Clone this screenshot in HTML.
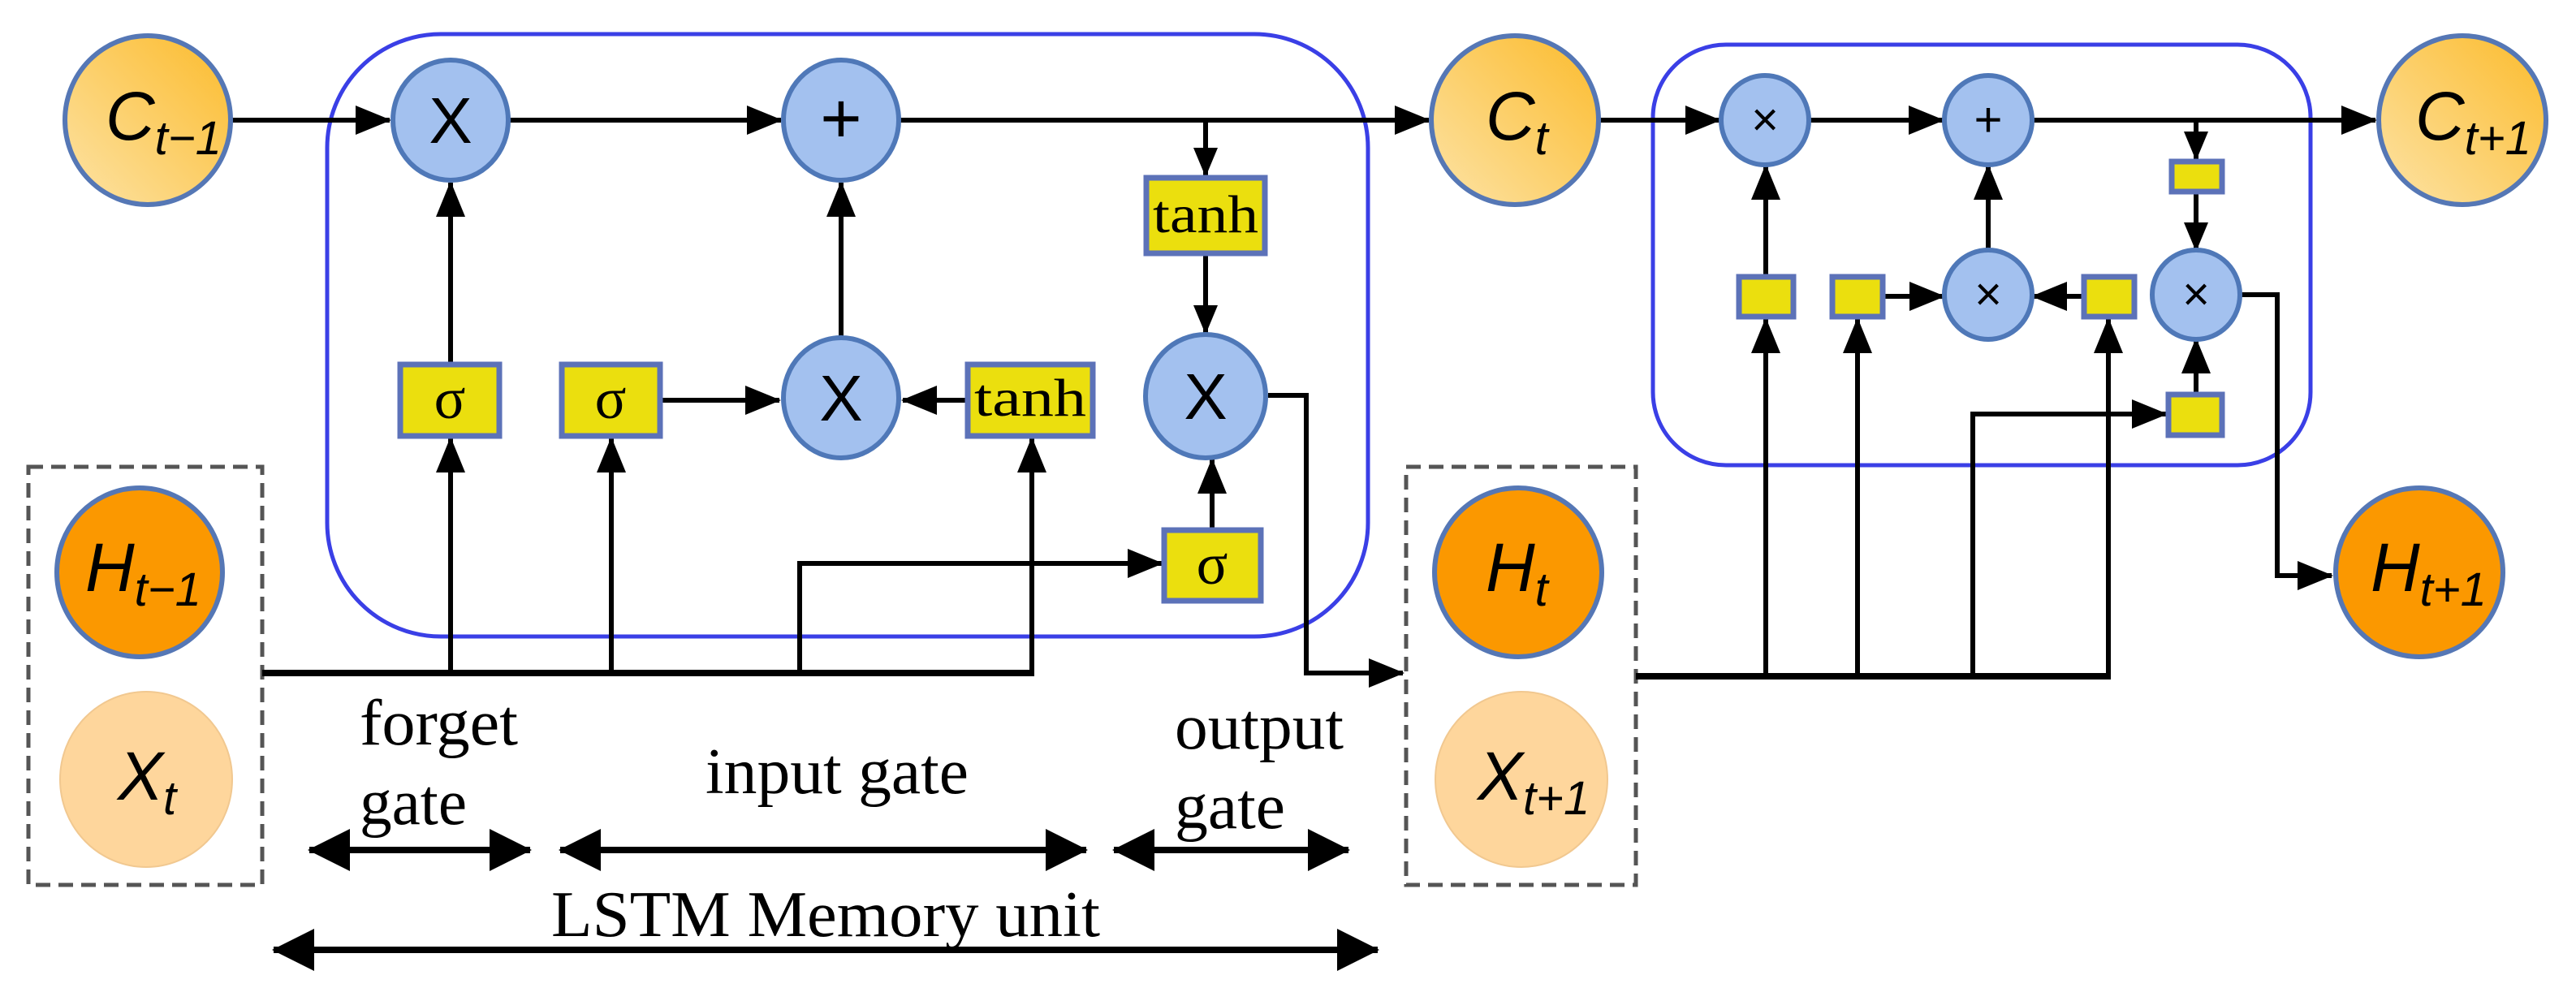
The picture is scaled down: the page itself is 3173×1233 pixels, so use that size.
<!DOCTYPE html>
<html><head><meta charset="utf-8"><style>
html,body{margin:0;padding:0;background:#fff;}
svg{display:block}
.it{font-family:"Liberation Sans",sans-serif;font-style:italic;}
.s{font-family:"Liberation Sans",sans-serif;}
.sr{font-family:"Liberation Serif",serif;}
</style></head><body>
<svg width="3173" height="1233" viewBox="0 0 3173 1233" xmlns="http://www.w3.org/2000/svg">
<defs>
<marker id="a" markerUnits="userSpaceOnUse" markerWidth="44" markerHeight="36" refX="42" refY="18" orient="auto"><path d="M0,0 L44,18 L0,36 z" fill="#000"/></marker>
<marker id="as" markerUnits="userSpaceOnUse" markerWidth="36" markerHeight="30" refX="34" refY="15" orient="auto"><path d="M0,0 L36,15 L0,30 z" fill="#000"/></marker>
<marker id="ab" markerUnits="userSpaceOnUse" markerWidth="52" markerHeight="52" refX="50" refY="26" orient="auto"><path d="M0,0 L52,26 L0,52 z" fill="#000"/></marker>
<marker id="abs" markerUnits="userSpaceOnUse" markerWidth="52" markerHeight="52" refX="2" refY="26" orient="auto"><path d="M52,0 L0,26 L52,52 z" fill="#000"/></marker>
<linearGradient id="cg" x1="1" y1="0" x2="0" y2="1"><stop offset="0" stop-color="#fbbb2c"/><stop offset="1" stop-color="#fde3a6"/></linearGradient>
</defs>

<rect x="403" y="42" width="1282" height="742" rx="140" fill="none" stroke="#3a3fe6" stroke-width="5"/>
<rect x="2036" y="55" width="810" height="518" rx="90" fill="none" stroke="#3a3fe6" stroke-width="5"/>

<rect x="35" y="575" width="288" height="515" fill="none" stroke="#555" stroke-width="5" stroke-dasharray="18,10"/>
<rect x="1732" y="575" width="283" height="515" fill="none" stroke="#555" stroke-width="5" stroke-dasharray="18,10"/>

<g stroke="#000" stroke-width="6" fill="none">
<line x1="285" y1="148" x2="480" y2="148" marker-end="url(#a)"/>
<line x1="627" y1="148" x2="962" y2="148" marker-end="url(#a)"/>
<line x1="1108" y1="148" x2="1760" y2="148" marker-end="url(#a)"/>
<line x1="1485" y1="148" x2="1485" y2="216" marker-end="url(#as)"/>
<line x1="1485" y1="315" x2="1485" y2="410" marker-end="url(#as)"/>
<line x1="555" y1="446" x2="555" y2="225" marker-end="url(#a)"/>
<line x1="1036" y1="415" x2="1036" y2="225" marker-end="url(#a)"/>
<line x1="555" y1="830" x2="555" y2="540" marker-end="url(#a)"/>
<line x1="753" y1="830" x2="753" y2="540" marker-end="url(#a)"/>
<line x1="1271" y1="830" x2="1271" y2="540" marker-end="url(#a)"/>
<line x1="816" y1="493" x2="960" y2="493" marker-end="url(#a)"/>
<line x1="1189" y1="493" x2="1112" y2="493" marker-end="url(#a)"/>
<line x1="1493" y1="650" x2="1493" y2="566" marker-end="url(#a)"/>
<polyline points="985,830 985,694 1431,694" marker-end="url(#a)"/>
<line x1="323" y1="829" x2="1274" y2="829" stroke-width="8"/>
<polyline points="1562,487 1609,487 1609,829 1728,829" marker-end="url(#a)"/>

<line x1="1971" y1="148" x2="2118" y2="148" marker-end="url(#a)"/>
<line x1="2229" y1="148" x2="2393" y2="148" marker-end="url(#a)"/>
<line x1="2504" y1="148" x2="2926" y2="148" marker-end="url(#a)"/>
<line x1="2705" y1="148" x2="2705" y2="196" marker-end="url(#as)"/>
<line x1="2705" y1="239" x2="2705" y2="308" marker-end="url(#as)"/>
<line x1="2175" y1="338" x2="2175" y2="204" marker-end="url(#a)"/>
<line x1="2449" y1="308" x2="2449" y2="204" marker-end="url(#a)"/>
<line x1="2175" y1="833" x2="2175" y2="393" marker-end="url(#a)"/>
<line x1="2288" y1="833" x2="2288" y2="393" marker-end="url(#a)"/>
<line x1="2597" y1="833" x2="2597" y2="393" marker-end="url(#a)"/>
<line x1="2322" y1="365" x2="2394" y2="365" marker-end="url(#a)"/>
<line x1="2564" y1="365" x2="2504" y2="365" marker-end="url(#a)"/>
<line x1="2705" y1="483" x2="2705" y2="418" marker-end="url(#a)"/>
<polyline points="2430,833 2430,510 2668,510" marker-end="url(#a)"/>
<line x1="2015" y1="833" x2="2600" y2="833" stroke-width="8"/>
<polyline points="2760,363 2805,363 2805,709 2872,709" marker-end="url(#a)"/>

<line x1="381" y1="1047" x2="653" y2="1047" stroke-width="8" marker-start="url(#abs)" marker-end="url(#ab)"/>
<line x1="690" y1="1047" x2="1338" y2="1047" stroke-width="8" marker-start="url(#abs)" marker-end="url(#ab)"/>
<line x1="1372" y1="1047" x2="1661" y2="1047" stroke-width="8" marker-start="url(#abs)" marker-end="url(#ab)"/>
<line x1="337" y1="1170" x2="1697" y2="1170" stroke-width="8" marker-start="url(#abs)" marker-end="url(#ab)"/>
</g>

<g stroke="#5577b5" stroke-width="6">
<ellipse cx="182" cy="148" rx="102" ry="104" fill="url(#cg)"/>
<ellipse cx="1866" cy="148" rx="103" ry="104" fill="url(#cg)"/>
<ellipse cx="3033" cy="148" rx="103" ry="104" fill="url(#cg)"/>
<ellipse cx="172" cy="705" rx="102" ry="104" fill="#fb9800"/>
<ellipse cx="1870" cy="705" rx="103" ry="104" fill="#fb9800"/>
<ellipse cx="2980" cy="705" rx="103" ry="104" fill="#fb9800"/>
</g>
<ellipse cx="180" cy="960" rx="106" ry="108" fill="#fed69c" stroke="#f1c890" stroke-width="2"/>
<ellipse cx="1874" cy="960" rx="106" ry="108" fill="#fed69c" stroke="#f1c890" stroke-width="2"/>

<g class="it" fill="#000">
<text x="130" y="172" font-size="84">C<tspan font-size="58" dy="18">t−1</tspan></text>
<text x="1830" y="172" font-size="84">C<tspan font-size="58" dy="18">t</tspan></text>
<text x="2975" y="172" font-size="84">C<tspan font-size="58" dy="18">t+1</tspan></text>
<text x="105" y="728" font-size="84">H<tspan font-size="58" dy="18">t−1</tspan></text>
<text x="1830" y="728" font-size="84">H<tspan font-size="58" dy="18">t</tspan></text>
<text x="2920" y="728" font-size="84">H<tspan font-size="58" dy="18">t+1</tspan></text>
<text x="145" y="985" font-size="84">X<tspan font-size="58" dy="18">t</tspan></text>
<text x="1820" y="985" font-size="84">X<tspan font-size="58" dy="18">t+1</tspan></text>
</g>

<g fill="#a3c1ef" stroke="#4f78b8" stroke-width="6">
<ellipse cx="555" cy="148" rx="71" ry="74"/>
<ellipse cx="1036" cy="148" rx="71" ry="74"/>
<ellipse cx="1036" cy="490" rx="71" ry="74"/>
<ellipse cx="1485" cy="488" rx="74" ry="76"/>
<ellipse cx="2174" cy="148" rx="54" ry="55"/>
<ellipse cx="2449" cy="148" rx="54" ry="55"/>
<ellipse cx="2449" cy="363" rx="54" ry="55"/>
<ellipse cx="2705" cy="363" rx="54" ry="55"/>
</g>
<g class="s" fill="#000" text-anchor="middle">
<text x="555" y="176" font-size="80">X</text>
<text x="1036" y="176" font-size="88">+</text>
<text x="1036" y="518" font-size="80">X</text>
<text x="1485" y="516" font-size="80">X</text>
<text x="2174" y="167" font-size="58">×</text>
<text x="2449" y="168" font-size="60">+</text>
<text x="2449" y="382" font-size="58">×</text>
<text x="2705" y="382" font-size="58">×</text>
</g>

<g fill="#ebdf0e" stroke="#5c72b8" stroke-width="7">
<rect x="493" y="449" width="122" height="88"/>
<rect x="692" y="449" width="121" height="88"/>
<rect x="1192" y="449" width="154" height="88"/>
<rect x="1412" y="219" width="146" height="93"/>
<rect x="1434" y="653" width="119" height="87"/>
<rect x="2142" y="341" width="67" height="49"/>
<rect x="2257" y="341" width="62" height="49"/>
<rect x="2567" y="341" width="62" height="49"/>
<rect x="2675" y="199" width="62" height="37"/>
<rect x="2671" y="486" width="66" height="50"/>
</g>
<g class="sr" fill="#000" text-anchor="middle">
<text x="554" y="515" font-size="72">σ</text>
<text x="752" y="515" font-size="72">σ</text>
<text x="1493" y="719" font-size="72">σ</text>
<text x="1269" y="512" font-size="66" textLength="138" lengthAdjust="spacingAndGlyphs">tanh</text>
<text x="1485" y="286" font-size="66" textLength="130" lengthAdjust="spacingAndGlyphs">tanh</text>
</g>

<g class="sr" fill="#000" font-size="80">
<text x="443" y="917" textLength="195" lengthAdjust="spacingAndGlyphs">forget</text>
<text x="443" y="1015" textLength="132" lengthAdjust="spacingAndGlyphs">gate</text>
<text x="869" y="977" textLength="324" lengthAdjust="spacingAndGlyphs">input gate</text>
<text x="1447" y="922" textLength="208" lengthAdjust="spacingAndGlyphs">output</text>
<text x="1447" y="1020" textLength="136" lengthAdjust="spacingAndGlyphs">gate</text>
<text x="679" y="1153" textLength="676" lengthAdjust="spacingAndGlyphs">LSTM Memory unit</text>
</g>
</svg>
</body></html>
